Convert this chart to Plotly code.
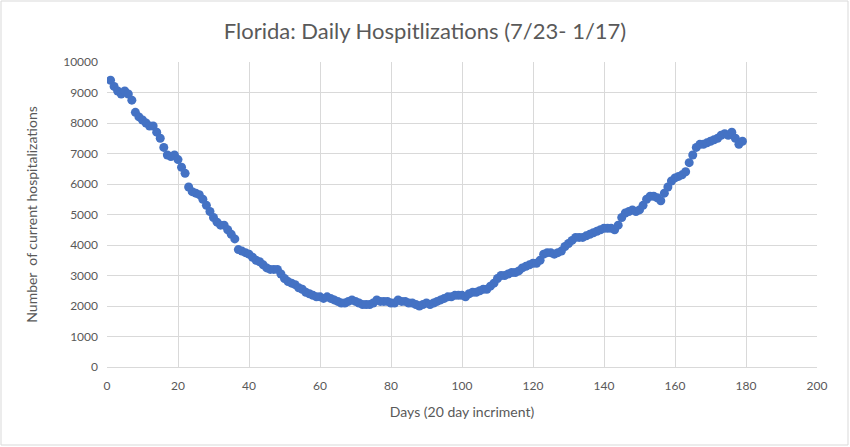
import plotly.graph_objects as go

days = list(range(1, 180))
hospitalizations = [
    9400, 9200, 9050, 8950, 9050, 8950, 8750, 8350, 8200, 8100,
    8000, 7900, 7900, 7700, 7500, 7200, 6950, 6900, 6950, 6800,
    6550, 6350, 5900, 5750, 5700, 5650, 5500, 5300, 5100, 4900,
    4750, 4650, 4650, 4500, 4350, 4200, 3850, 3800, 3750, 3700,
    3600, 3500, 3450, 3350, 3250, 3200, 3200, 3200, 3050, 2900,
    2800, 2750, 2700, 2600, 2550, 2450, 2400, 2350, 2300, 2300,
    2250, 2300, 2250, 2200, 2150, 2100, 2100, 2150, 2200, 2150,
    2100, 2050, 2050, 2050, 2100, 2200, 2150, 2150, 2150, 2100,
    2100, 2200, 2150, 2150, 2100, 2100, 2050, 2000, 2050, 2100,
    2050, 2100, 2150, 2200, 2250, 2300, 2300, 2350, 2350, 2350,
    2300, 2400, 2450, 2450, 2500, 2550, 2550, 2650, 2750, 2900,
    3000, 3000, 3050, 3100, 3100, 3150, 3250, 3300, 3350, 3400,
    3400, 3500, 3700, 3750, 3750, 3700, 3750, 3800, 3950, 4050,
    4150, 4250, 4250, 4250, 4300, 4350, 4400, 4450, 4500, 4550,
    4550, 4550, 4500, 4650, 4900, 5050, 5100, 5150, 5100, 5150,
    5300, 5500, 5600, 5600, 5550, 5450, 5700, 5900, 6100, 6200,
    6250, 6300, 6400, 6700, 6950, 7200, 7300, 7300, 7350, 7400,
    7450, 7500, 7600, 7650, 7600, 7700, 7500, 7300, 7400,
]

x_ticks = list(range(0, 201, 20))
y_ticks = list(range(0, 10001, 1000))
y_tick_labels = [str(v) for v in y_ticks]

FONT = "Lato"
GREY = "#595959"
GRID = "#d9d9d9"

fig = go.Figure()
fig.add_trace(go.Scatter(
    x=days, y=hospitalizations, mode="markers",
    marker=dict(color="#4472C4", size=9, line=dict(width=0)),
    showlegend=False,
))

W, H = 850, 447
L, R, T, B = 107, 33, 62, 80
pw, ph = W - L - R, H - T - B

fig.update_layout(
    width=W, height=H,
    margin=dict(l=L, r=R, t=T, b=B),
    paper_bgcolor="white", plot_bgcolor="white",
    font=dict(family=FONT, color=GREY, size=12),
    title=dict(text="Florida: Daily Hospitlizations (7/23- 1/17)",
               x=0.5, xanchor="center", y=1 - 31 / H, yanchor="middle",
               font=dict(family=FONT, size=22, color=GREY)),
    xaxis=dict(range=[0, 200], tickvals=x_ticks, showgrid=True, gridcolor=GRID,
               gridwidth=1, zeroline=False, showline=True, linecolor=GRID,
               ticks="", ticklabelstandoff=8,
               title=dict(text="Days (20 day incriment)", standoff=14,
                          font=dict(size=14, color=GREY))),
    yaxis=dict(range=[0, 10000], tickvals=y_ticks, ticktext=y_tick_labels,
               showgrid=True, gridcolor=GRID,
               gridwidth=1, zeroline=False, showline=False, ticks="",
               ticklabelstandoff=8,
               title=dict(text="Number  of current hospitalizations", standoff=22,
                          font=dict(size=14, color=GREY))),
    shapes=[dict(type="rect", xref="paper", yref="paper",
                 x0=(1 - L) / pw, x1=(W - 2 - L) / pw,
                 y0=(H - B - (H - 2)) / ph, y1=(H - B - 1) / ph,
                 line=dict(color=GRID, width=1), fillcolor="rgba(0,0,0,0)",
                 layer="below")],
)

fig.write_html("out.html")
